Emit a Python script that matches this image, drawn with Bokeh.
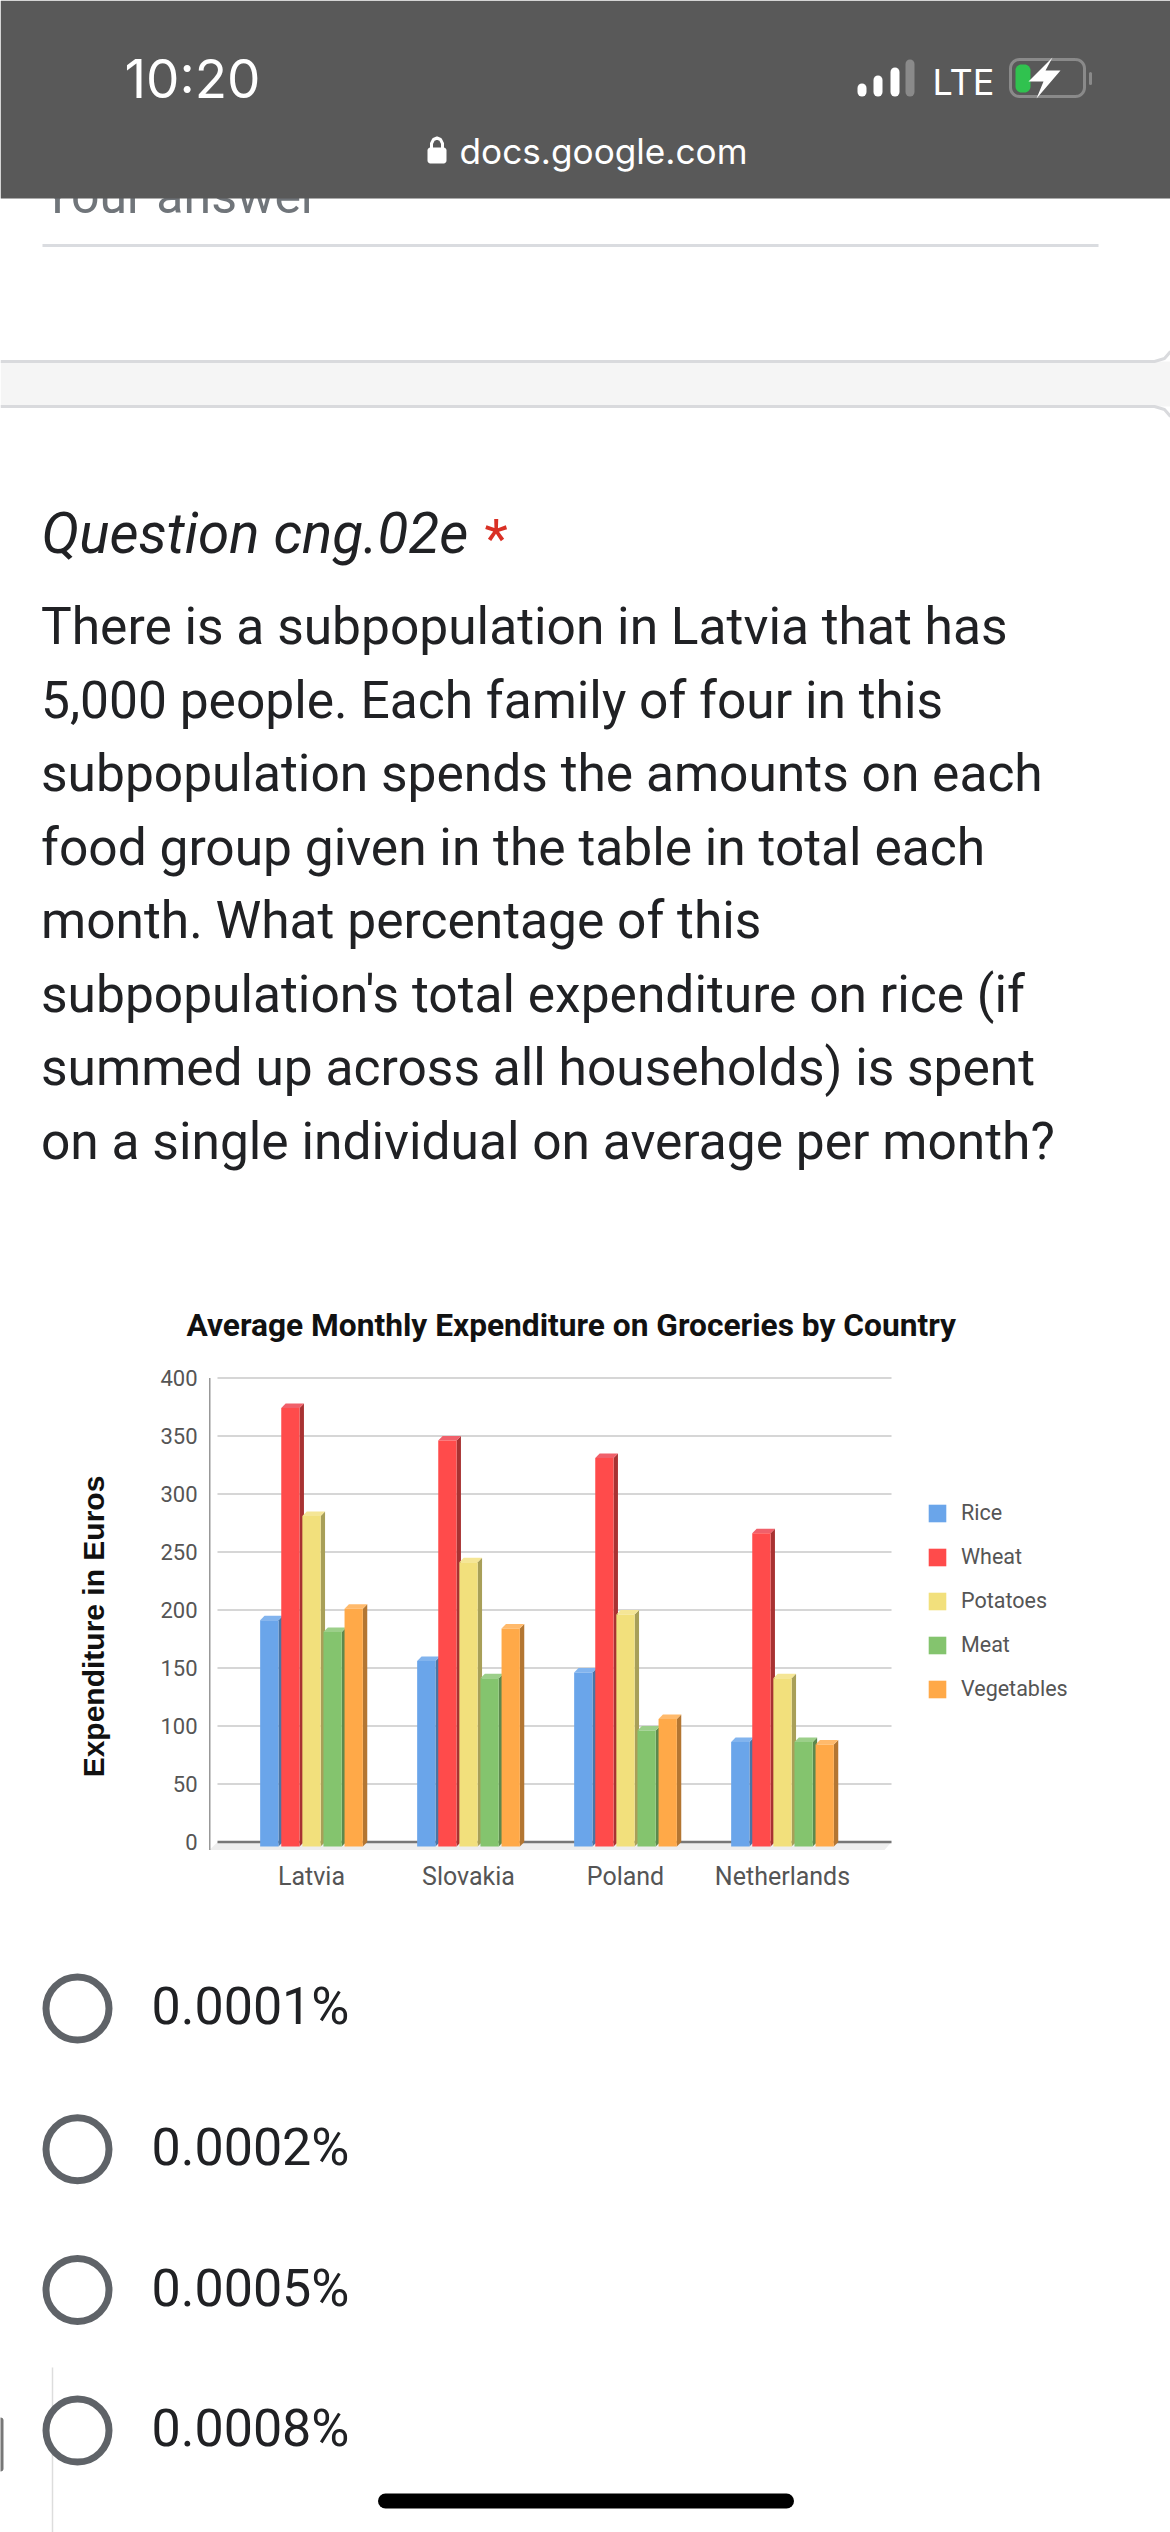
import math
from bokeh.core.properties import value
from bokeh.embed import file_html
from bokeh.layouts import column
from bokeh.models import FixedTicker, Legend, LegendItem, Range1d
from bokeh.plotting import figure
from bokeh.resources import INLINE

CATEGORIES = ["Latvia", "Slovakia", "Poland", "Netherlands"]
RICE = [195, 160, 150, 90]
WHEAT = [378, 350, 335, 270]
POTATOES = [285, 245, 200, 145]
MEAT = [185, 145, 100, 90]
VEGETABLES = [205, 188, 110, 88]
SERIES_NAMES = ["Rice", "Wheat", "Potatoes", "Meat", "Vegetables"]
SERIES_VALUES = [RICE, WHEAT, POTATOES, MEAT, VEGETABLES]
FRONT = ["#6aa5ea", "#ff4b4b", "#f2e07c", "#84c46e", "#ffa948"]
SIDE = ["#4a74a4", "#a83232", "#a89f58", "#5c894d", "#b37632"]
TOPF = ["#82b4ee", "#f0606a", "#f5e696", "#9ccf8a", "#ffba6c"]
Y_TICKS = [0, 50, 100, 150, 200, 250, 300, 350, 400]
TITLE = "Average Monthly Expenditure on Groceries by Country"
Y_LABEL = "Expenditure in Euros"
QUESTION = "Question cng.02e"
BODY = [
    "There is a subpopulation in Latvia that has",
    "5,000 people. Each family of four in this",
    "subpopulation spends the amounts on each",
    "food group given in the table in total each",
    "month. What percentage of this",
    "subpopulation's total expenditure on rice (if",
    "summed up across all households) is spent",
    "on a single individual on average per month?",
]
OPTIONS = ["0.0001%", "0.0002%", "0.0005%", "0.0008%"]


def chrome(height, y_start):
    p = figure(width=1170, height=height, output_backend="svg", toolbar_location=None,
               x_range=Range1d(0, 1170), y_range=Range1d(y_start + height, y_start),
               min_border=0, x_axis_type=None, y_axis_type=None, frame_align=False)
    p.grid.visible = False
    p.outline_line_color = None
    return p


def rrect(x0, y0, x1, y1, r):
    xs, ys = [], []
    for cx, cy, a0 in [(x1 - r, y0 + r, -90), (x1 - r, y1 - r, 0), (x0 + r, y1 - r, 90), (x0 + r, y0 + r, 180)]:
        for k in range(9):
            a = math.radians(a0 + k * 11.25)
            xs.append(cx + r * math.cos(a))
            ys.append(cy + r * math.sin(a))
    return xs + xs[:1], ys + ys[:1]


def txt(p, x, y, s, font, size, color, style="normal", align="left"):
    # y is the baseline; the text is placed by the middle of its line box
    p.text([x], [y - 0.34 * size], text=[s], text_font=value(font), text_font_size=f"{size}px", text_color=color,
           text_font_style=style, text_align=align, text_baseline="middle")


# ---------- top of the page ----------
top = chrome(1290, 0)
txt(top, 42, 212, "Your answer", "Roboto", 50, "#70757a")
top.segment([42], [245], [1098], [245], line_color="#dadce0", line_width=3)
top.quad(left=[0], right=[1170], top=[361], bottom=[406], fill_color="#f5f5f5", line_color=None)
top.line([0, 1154, 1164, 1170], [361, 361, 358, 351], line_color="#d9dadd", line_width=3)
top.line([0, 1154, 1164, 1170], [406, 406, 409, 416], line_color="#d9dadd", line_width=3)
top.quad(left=[0], right=[1170], top=[0], bottom=[198], fill_color="#595959", line_color=None)
txt(top, 124, 97, "10:20", "Inter", 53, "#ffffff")
top.segment([861.5, 877.5, 894.5], [87.5, 79.5, 71.5], [861.5, 877.5, 894.5], [91.5, 91.5, 91.5], line_color="#ffffff", line_width=9, line_cap="round")
top.segment([909.5], [63.5], [909.5], [91.5], line_color="#8a8a8a", line_width=9, line_cap="round")
txt(top, 932, 94, "LTE", "Inter", 36, "#ffffff")
bx, by = rrect(1010, 59, 1084, 96, 9)
top.line(bx, by, line_color="#8a8a8a", line_width=3)
gx, gy = rrect(1015, 64, 1030, 92, 6)
top.patch(gx, gy, fill_color="#30c24f", line_color=None)
top.patch([1052, 1028, 1043, 1036, 1060, 1045], [57, 81, 81, 98, 70, 70], fill_color="#ffffff", line_color=None)
top.segment([1090], [73], [1090], [83], line_color="#8a8a8a", line_width=3, line_cap="round")
lx, ly = rrect(427, 147, 446, 163, 3)
top.patch(lx, ly, fill_color="#ffffff", line_color=None)
top.line([431, 431, 433, 436.5, 440, 442, 442], [148, 143, 139, 137.5, 139, 143, 148], line_color="#ffffff", line_width=3)
txt(top, 459, 162, "docs.google.com", "Inter", 35.2, "#ffffff")
txt(top, 41, 553, QUESTION, "Roboto", 56.5, "#202124", "italic")
txt(top, 484, 556, "*", "Roboto", 54, "#d93025")
for i, line in enumerate(BODY):
    txt(top, 40.5, 644 + i * 73.5, line, "Roboto", 51.5, "#202124")

# ---------- chart ----------
CH_TOP, CH_H = 1290, 670
F_LEFT, F_RIGHT, F_TOP, F_BOTTOM = 209, 1170, 1350, 1902
ZERO_PX, PX_UNIT, CAT0_PX, CAT_PX = 1841.5, 1.16, 311, 157
x0 = (F_LEFT - CAT0_PX) / CAT_PX
x1 = (F_RIGHT - CAT0_PX) / CAT_PX
y0 = (ZERO_PX - F_BOTTOM) / PX_UNIT
y1 = (ZERO_PX - F_TOP) / PX_UNIT
y_floor = (ZERO_PX - 1849.5) / PX_UNIT
wall_l = (217 - CAT0_PX) / CAT_PX
wall_r = (891 - CAT0_PX) / CAT_PX
floor_r = (884 - CAT0_PX) / CAT_PX
p = figure(width=1170, height=CH_H, output_backend="svg", toolbar_location=None,
           x_range=Range1d(x0, x1), y_range=Range1d(y0, y1), frame_align=False,
           min_border_left=F_LEFT, min_border_right=0, min_border_top=F_TOP - CH_TOP,
           min_border_bottom=CH_TOP + CH_H - F_BOTTOM, title=TITLE)
p.title.text_font = "Roboto"
p.title.text_font_size = "31.7px"
p.title.text_font_style = "bold"
p.title.text_color = "#111111"
p.title.align = "left"
p.title.offset = 186 - F_LEFT
p.title.standoff = 14
p.outline_line_color = None
p.grid.visible = False
p.yaxis.ticker = FixedTicker(ticks=Y_TICKS)
p.yaxis.axis_line_color = None
p.yaxis.major_tick_line_color = None
p.yaxis.minor_tick_line_color = None
p.yaxis.major_tick_out = 0
p.yaxis.major_tick_in = 0
p.yaxis.major_label_standoff = 12
p.yaxis.major_label_text_font = "Roboto"
p.yaxis.major_label_text_font_size = "22px"
p.yaxis.major_label_text_color = "#555555"
p.yaxis.axis_label = Y_LABEL
p.yaxis.axis_label_text_font = "Liberation Sans"
p.yaxis.axis_label_text_font_size = "30px"
p.yaxis.axis_label_text_font_style = "bold"
p.yaxis.axis_label_text_color = "#111111"
p.yaxis.axis_label_standoff = 47
p.xaxis.ticker = FixedTicker(ticks=list(range(len(CATEGORIES))))
p.xaxis.major_label_overrides = {i: c for i, c in enumerate(CATEGORIES)}
p.xaxis.fixed_location = y_floor
p.xaxis.axis_line_color = None
p.xaxis.major_tick_line_color = None
p.xaxis.minor_tick_line_color = None
p.xaxis.major_tick_out = 0
p.xaxis.major_tick_in = 0
p.xaxis.major_label_standoff = 12
p.xaxis.major_label_text_font = "Roboto"
p.xaxis.major_label_text_font_size = "25px"
p.xaxis.major_label_text_color = "#555555"

grid_ticks = [t for t in Y_TICKS if t > 0]
p.segment([wall_l] * len(grid_ticks), grid_ticks, [wall_r] * len(grid_ticks), grid_ticks,
          line_color="#d6d6d6", line_width=2.2)
p.patch([x0, wall_l, wall_r, floor_r], [y_floor, 0, 0, y_floor], fill_color="#eeeeee", line_color=None)
p.segment([wall_l], [0], [wall_r], [0], line_color="#777777", line_width=2.5)
p.segment([x0], [y_floor], [x0], [400], line_color="#333333", line_width=1.5)

PITCH = 21.1 / CAT_PX
WIDTH = 18.3 / CAT_PX
DX = 4.4 / CAT_PX
DY = 4.5 / PX_UNIT
items = []
for s, name in enumerate(SERIES_NAMES):
    vals = SERIES_VALUES[s]
    cx = [i + (s - 2) * PITCH for i in range(len(vals))]
    L = [c - WIDTH / 2 for c in cx]
    R = [c + WIDTH / 2 for c in cx]
    p.patches([[r, r + DX, r + DX, r] for r in R],
              [[-DY, 0, v, v - DY] for v in vals], fill_color=SIDE[s], line_color=None)
    p.patches([[l, l + DX, r + DX, r] for l, r in zip(L, R)],
              [[v - DY, v, v, v - DY] for v in vals], fill_color=TOPF[s], line_color=None)
    r = p.vbar(x=cx, width=WIDTH, bottom=-DY, top=[v - DY for v in vals], fill_color=FRONT[s], line_color=None)
    items.append(LegendItem(label=name, renderers=[r]))

legend = Legend(items=items, location=(926 - F_LEFT, F_BOTTOM - 1701), orientation="vertical",
                padding=0, margin=0, spacing=19, glyph_width=22, glyph_height=22, label_height=22,
                label_standoff=13, border_line_color=None, background_fill_alpha=0,
                label_text_font="Roboto", label_text_font_size="21.5px", label_text_color="#555555")
p.add_layout(legend)

# ---------- bottom of the page ----------
BOT_TOP = CH_TOP + CH_H
bot = chrome(2532 - BOT_TOP, BOT_TOP)
bot.segment([52], [2367], [52], [2532], line_color="#dddddd", line_width=1.5)
bot.segment([0], [2420], [0], [2468], line_color="#777777", line_width=6, line_cap="round")
for i, opt in enumerate(OPTIONS):
    y = 2008 + i * 140.7
    bot.circle([77], [y], radius=31.5, fill_color="#ffffff", line_color="#5f6368", line_width=7)
    txt(bot, 151, y + 16, opt, "Roboto", 52, "#202124")
bot.segment([385], [2500.5], [786], [2500.5], line_color="#000000", line_width=15, line_cap="round")

page = column(top, p, bot, spacing=0)
open("out.html", "w").write(file_html(page, INLINE))
